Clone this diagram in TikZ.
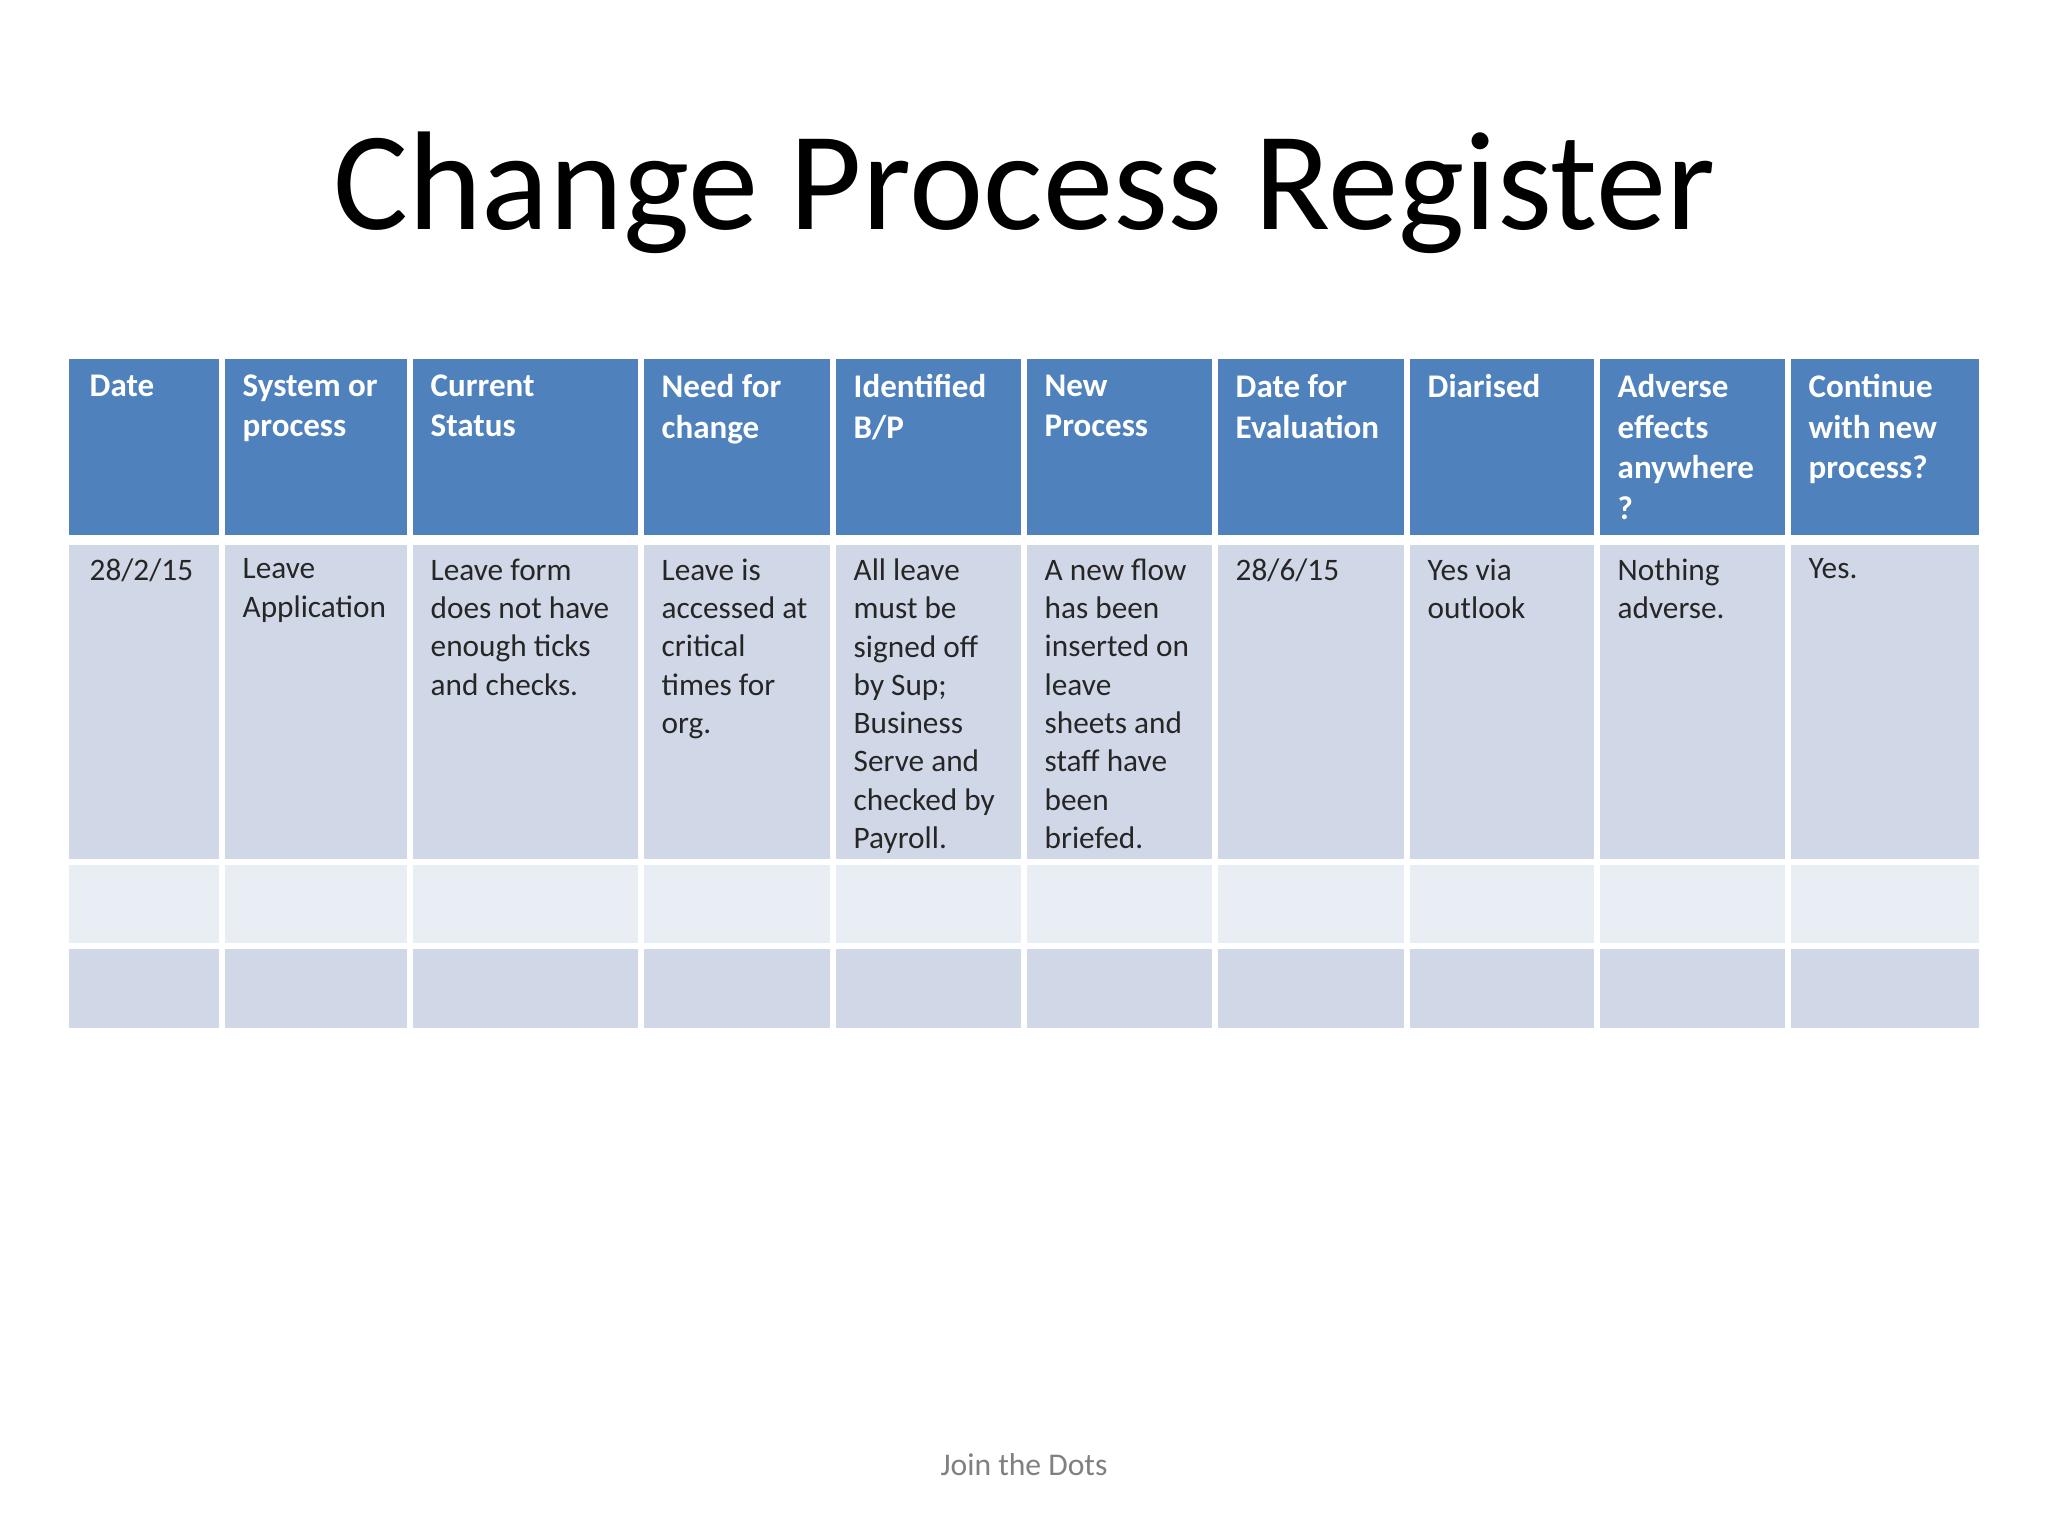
\documentclass[tikz,border=0pt]{standalone}
\usepackage{fontspec}
\setmainfont{Carlito}
\definecolor{hdr}{HTML}{4F81BD}
\definecolor{rowa}{HTML}{D0D8E8}
\definecolor{rowb}{HTML}{E9EDF4}
\begin{document}
\begin{tikzpicture}[x=1cm,y=1cm,
  cellbg/.style={draw=white,line width=1.2pt},
  hd/.style={anchor=north west,inner sep=0pt,align=left,font=\fontsize{9.4}{11.5}\selectfont\bfseries,text=white},
  bd/.style={anchor=north west,inner sep=0pt,align=left,font=\fontsize{8.9}{10.9}\selectfont,text=black!85}]
\useasboundingbox (0,0) rectangle (20.48,-15.36);
\node[font=\fontsize{40}{48}\selectfont] (title) at (10.24,-1.93) {Change Process Register};
\def\xs{{0.692,2.22,4.10,6.41,8.33,10.24,12.15,14.07,15.97,17.88,19.79}}
\foreach \i in {0,...,9}{
  \pgfmathsetmacro{\xa}{\xs[\i]}
  \pgfmathsetmacro{\xb}{\xs[\i+1]}
  \fill[hdr] (\xa,-3.59) rectangle (\xb,-5.38);
  \fill[rowa] (\xa,-5.38) rectangle (\xb,-8.62);
  \fill[rowb] (\xa,-8.62) rectangle (\xb,-9.46);
  \fill[rowa] (\xa,-9.46) rectangle (\xb,-10.28);
}
\foreach \i in {1,...,9}{\pgfmathsetmacro{\xa}{\xs[\i]}\draw[white,line width=1.5pt] (\xa,-3.59) -- (\xa,-10.28);}
\foreach \y in {-5.38,-8.62,-9.46}{\draw[white,line width=1.5pt] (0.692,\y) -- (19.79,\y);}
\draw[white,line width=3pt] (0.692,-5.40) -- (19.79,-5.40);
% headers
\node[hd] (h1) at (0.89,-3.74) {Date};
\node[hd] (h2) at (2.42,-3.74) {System or\\process};
\node[hd] (h3) at (4.30,-3.74) {Current\\Status};
\node[hd] (h4) at (6.61,-3.74) {Need for\\change};
\node[hd] (h5) at (8.53,-3.74) {Identified\\B/P};
\node[hd] (h6) at (10.44,-3.74) {New\\Process};
\node[hd] (h7) at (12.35,-3.74) {Date for\\Evaluation};
\node[hd] (h8) at (14.27,-3.74) {Diarised};
\node[hd] (h9) at (16.17,-3.74) {Adverse\\effects\\anywhere\\?};
\node[hd] (h10) at (18.08,-3.74) {Continue\\with new\\process?};
% body
\node[bd] (b1) at (0.89,-5.58) {28/2/15};
\node[bd] (b2) at (2.42,-5.58) {Leave\\Application};
\node[bd] (b3) at (4.30,-5.58) {Leave form\\does not have\\enough ticks\\and checks.};
\node[bd] (b4) at (6.61,-5.58) {Leave is\\accessed at\\critical\\times for\\org.};
\node[bd] (b5) at (8.53,-5.58) {All leave\\must be\\signed off\\by Sup;\\Business\\Serve and\\checked by\\Payroll.};
\node[bd] (b6) at (10.44,-5.58) {A new flow\\has been\\inserted on\\leave\\sheets and\\staff have\\been\\briefed.};
\node[bd] (b7) at (12.35,-5.58) {28/6/15};
\node[bd] (b8) at (14.27,-5.58) {Yes via\\outlook};
\node[bd] (b9) at (16.17,-5.58) {Nothing\\adverse.};
\node[bd] (b10) at (18.08,-5.58) {Yes.};
\node[font=\fontsize{9}{11}\selectfont,text=black!50] (foot) at (10.24,-14.65) {Join the Dots};
\end{tikzpicture}
\end{document}
